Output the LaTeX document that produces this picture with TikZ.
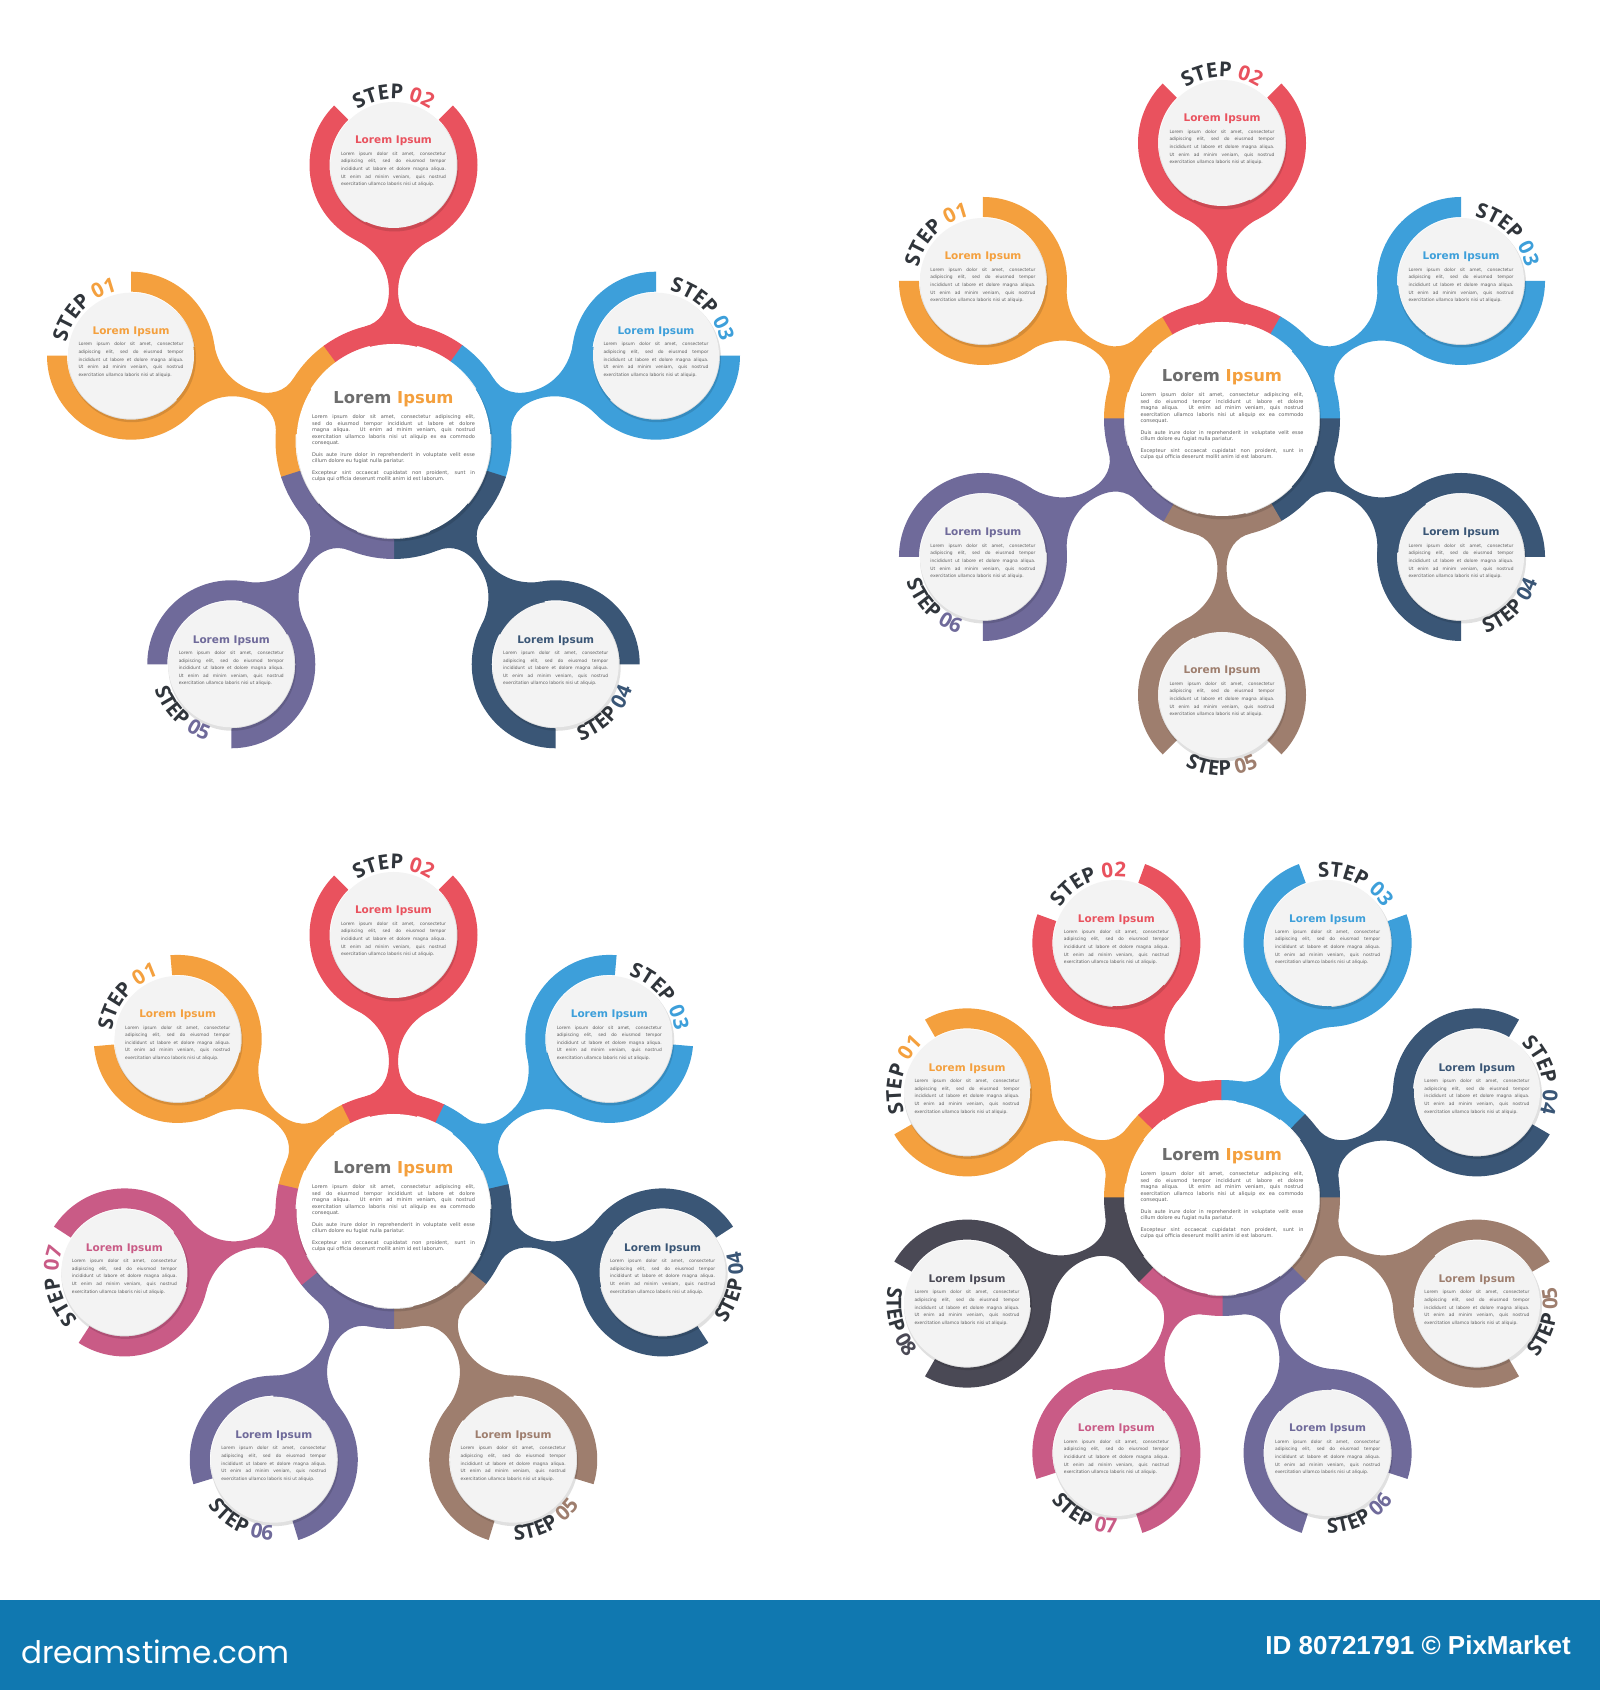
\documentclass[tikz,border=0pt]{standalone}
\usepackage{fontspec}
\usetikzlibrary{calc,decorations.text}
\newfontfamily\djsans{DejaVu Sans}
\newfontfamily\osans{Open Sans}
\newfontfamily\popp{Poppins}
\newfontfamily\lsans{Liberation Sans}
\definecolor{cOrange}{HTML}{F4A03E}
\definecolor{cRed}{HTML}{E9525E}
\definecolor{cBlue}{HTML}{3D9FDA}
\definecolor{cNavy}{HTML}{3A5676}
\definecolor{cPurple}{HTML}{6F6A9A}
\definecolor{cBrown}{HTML}{9E7E6E}
\definecolor{cPink}{HTML}{C95B86}
\definecolor{cDark}{HTML}{4A4955}
\definecolor{stepGrey}{HTML}{30353B}
\definecolor{discGrey}{HTML}{F3F3F3}
\definecolor{bodyGrey}{HTML}{5E5E5E}
\definecolor{titleGrey}{HTML}{6D6D6D}
\definecolor{bannerBlue}{HTML}{1078B0}

\newcommand\stepfnt{\osans\bfseries\fontsize{20.5}{20.5}\selectfont}

\tikzset{
  otitle/.style={anchor=base, inner sep=0pt, font=\djsans\bfseries\fontsize{10.5}{12}\selectfont},
  obody/.style={anchor=north, inner sep=0pt, text width=105pt, align=justify, text=bodyGrey, font=\djsans\fontsize{4.4}{7.6}\selectfont\parindent0pt},
  ctitle/.style={anchor=base, inner sep=0pt, font=\djsans\bfseries\fontsize{16.4}{18}\selectfont},
  cbody/.style={anchor=north, inner sep=0pt, text width=163pt, align=justify, text=bodyGrey, font=\djsans\fontsize{5}{6.5}\selectfont\parindent0pt\parskip5pt},
  discshadow/.style={fill=black, fill opacity=0.12},
}

\newcommand\outerbodytext{Lorem ipsum dolor sit amet, consectetur\linebreak adipiscing elit, sed do eiusmod tempor\linebreak incididunt ut labore et dolore magna aliqua.\linebreak Ut enim ad minim veniam, quis nostrud\linebreak exercitation ullamco laboris nisi ut aliquip.}

\newcommand\centerbodytext{Lorem ipsum dolor sit amet, consectetur adipiscing elit,\linebreak sed do eiusmod tempor incididunt ut labore et dolore\linebreak magna aliqua. Ut enim ad minim veniam, quis nostrud\linebreak exercitation ullamco laboris nisi ut aliquip ex ea commodo\linebreak consequat.\par Duis aute irure dolor in reprehenderit in voluptate velit esse\linebreak cillum dolore eu fugiat nulla pariatur.\par Excepteur sint occaecat cupidatat non proident, sunt in\linebreak culpa qui officia deserunt mollit anim id est laborum.}

% #1 diagram centre, #2 step name, #3 direction, #4 colour, #5 number, #6 label angle, #7 1=clockwise label
\newcommand\stepunit[7]{%
  \coordinate (#2) at ($(#1)+(#3:276)$);
  \begin{scope}[shift={(#1)}, rotate=#3]
    \fill[#4] (0,0) -- (114.5,28.5) .. controls (118.1,14.2) and (130,4.6) .. (150,4.6) .. controls (178,4.6) and (194.4,24.2) .. (200.5,36.8) -- (276,0) -- (200.5,-36.8) .. controls (194.4,-24.2) and (178,-4.6) .. (150,-4.6) .. controls (130,-4.6) and (118.1,-14.2) .. (114.5,-28.5) -- cycle;
  \end{scope}
  \pgfmathsetmacro\gapA{#6+45}%
  \pgfmathsetmacro\gapB{#6+315}%
  \fill[#4] ($(#2)+(\gapA:84)$) arc[start angle=\gapA, end angle=\gapB, radius=84] -- ($(#2)+(\gapB:64)$) arc[start angle=\gapB, end angle=\gapA, radius=64] -- cycle;
  \fill[discshadow] ($(#2)+(1,-2.5)$) circle[radius=64];
  \fill[discGrey] (#2) circle[radius=63];
  \node[otitle, text=#4] (#2t) at ($(#2)+(0,21)$) {Lorem Ipsum};
  \node[obody] (#2b) at ($(#2)+(0,13.3)$) {\outerbodytext};
  \ifnum#7=1
    \pgfmathsetmacro\labA{#6+80}\pgfmathsetmacro\labB{#6-80}%
    \path[decorate, decoration={text along path, text align=center, text={|\stepfnt\color{stepGrey}|STEP |\stepfnt\color{#4}|#5}}] ($(#2)+(\labA:66)$) arc[start angle=\labA, end angle=\labB, radius=66];
  \else
    \pgfmathsetmacro\labA{#6-80}\pgfmathsetmacro\labB{#6+80}%
    \path[decorate, decoration={text along path, text align=center, text={|\stepfnt\color{stepGrey}|STEP |\stepfnt\color{#4}|#5}}] ($(#2)+(\labA:80.5)$) arc[start angle=\labA, end angle=\labB, radius=80.5];
  \fi
}

\newcommand\cseg[4]{%
  \pgfmathsetmacro\csA{#2-#3}\pgfmathsetmacro\csB{#2+#3}%
  \fill[#4] ($(#1)+(\csA:118)$) arc[start angle=\csA, end angle=\csB, radius=118] -- ($(#1)+(\csB:98)$) arc[start angle=\csB, end angle=\csA, radius=98] -- cycle;}

\newcommand\centerpart[1]{%
  \fill[discshadow] ($(#1)+(1,-2.5)$) circle[radius=98];
  \fill[white] (#1) circle[radius=97];
  \node[ctitle] (#1t) at ($(#1)+(0,37.5)$) {\textcolor{titleGrey}{Lorem} \textcolor{cOrange}{Ipsum}};
  \node[cbody] (#1b) at ($(#1)+(0,26)$) {\centerbodytext};}

\begin{document}
\begin{tikzpicture}[x=1pt,y=1pt]
\useasboundingbox (0,0) rectangle (1600,1690);
\fill[white] (0,0) rectangle (1600,1690);

% ---------- diagram 1 : five steps
\coordinate (D1) at (393.5,1249);
\stepunit{D1}{D1s1}{162}{cOrange}{01}{135}{1}
\stepunit{D1}{D1s2}{90}{cRed}{02}{90}{1}
\stepunit{D1}{D1s3}{18}{cBlue}{03}{45}{1}
\stepunit{D1}{D1s4}{-54}{cNavy}{04}{-45}{0}
\stepunit{D1}{D1s5}{234}{cPurple}{05}{225}{0}
\cseg{D1}{162}{36.3}{cOrange}
\cseg{D1}{90}{36.3}{cRed}
\cseg{D1}{18}{36.3}{cBlue}
\cseg{D1}{-54}{36.3}{cNavy}
\cseg{D1}{234}{36.3}{cPurple}
\centerpart{D1}

% ---------- diagram 2 : six steps
\coordinate (D2) at (1222,1271);
\stepunit{D2}{D2s1}{150}{cOrange}{01}{135}{1}
\stepunit{D2}{D2s2}{90}{cRed}{02}{90}{1}
\stepunit{D2}{D2s3}{30}{cBlue}{03}{45}{1}
\stepunit{D2}{D2s4}{-30}{cNavy}{04}{-45}{0}
\stepunit{D2}{D2s5}{-90}{cBrown}{05}{-90}{0}
\stepunit{D2}{D2s6}{210}{cPurple}{06}{225}{0}
\cseg{D2}{150}{30.3}{cOrange}
\cseg{D2}{90}{30.3}{cRed}
\cseg{D2}{30}{30.3}{cBlue}
\cseg{D2}{-30}{30.3}{cNavy}
\cseg{D2}{-90}{30.3}{cBrown}
\cseg{D2}{210}{30.3}{cPurple}
\centerpart{D2}

% ---------- diagram 3 : seven steps
\coordinate (D3) at (393.5,479);
\stepunit{D3}{D3s1}{141.43}{cOrange}{01}{140}{1}
\stepunit{D3}{D3s2}{90}{cRed}{02}{90}{1}
\stepunit{D3}{D3s3}{38.57}{cBlue}{03}{40}{1}
\stepunit{D3}{D3s4}{-12.86}{cNavy}{04}{-12}{0}
\stepunit{D3}{D3s5}{-64.29}{cBrown}{05}{-62}{0}
\stepunit{D3}{D3s6}{244.29}{cPurple}{06}{242}{0}
\stepunit{D3}{D3s7}{192.86}{cPink}{07}{192}{1}
\cseg{D3}{141.43}{26}{cOrange}
\cseg{D3}{90}{26}{cRed}
\cseg{D3}{38.57}{26}{cBlue}
\cseg{D3}{-12.86}{26}{cNavy}
\cseg{D3}{-64.29}{26}{cBrown}
\cseg{D3}{244.29}{26}{cPurple}
\cseg{D3}{192.86}{26}{cPink}
\centerpart{D3}

% ---------- diagram 4 : eight steps
\coordinate (D4) at (1222,492);
\stepunit{D4}{D4s1}{157.5}{cOrange}{01}{165}{1}
\stepunit{D4}{D4s2}{112.5}{cRed}{02}{115}{1}
\stepunit{D4}{D4s3}{67.5}{cBlue}{03}{65}{1}
\stepunit{D4}{D4s4}{22.5}{cNavy}{04}{15}{1}
\stepunit{D4}{D4s5}{-22.5}{cBrown}{05}{-15}{0}
\stepunit{D4}{D4s6}{-67.5}{cPurple}{06}{-63}{0}
\stepunit{D4}{D4s7}{247.5}{cPink}{07}{243}{0}
\stepunit{D4}{D4s8}{202.5}{cDark}{08}{195}{0}
\cseg{D4}{157.5}{22.8}{cOrange}
\cseg{D4}{112.5}{22.8}{cRed}
\cseg{D4}{67.5}{22.8}{cBlue}
\cseg{D4}{22.5}{22.8}{cNavy}
\cseg{D4}{-22.5}{22.8}{cBrown}
\cseg{D4}{-67.5}{22.8}{cPurple}
\cseg{D4}{247.5}{22.8}{cPink}
\cseg{D4}{202.5}{22.8}{cDark}
\centerpart{D4}

% ---------- banner
\fill[bannerBlue] (0,0) rectangle (1600,90);
\node[anchor=base west, inner sep=0pt, text=white, font=\popp\fontsize{31}{31}\selectfont] (logo) at (21,26) {dreamstime.com};
\node[anchor=base east, inner sep=0pt, text=white, font=\lsans\bfseries\fontsize{26}{26}\selectfont] (credit) at (1571,35) {ID 80721791 © PixMarket};
\end{tikzpicture}
\end{document}
